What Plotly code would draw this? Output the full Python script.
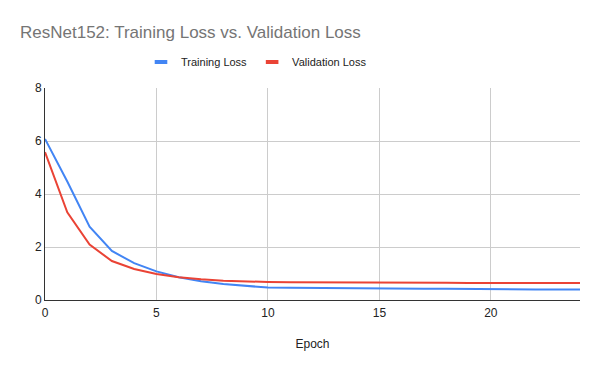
import plotly.graph_objects as go

epochs = list(range(25))
training_loss = [6.08, 4.47, 2.77, 1.85, 1.39, 1.08, 0.86, 0.71, 0.60, 0.53,
                 0.47, 0.46, 0.45, 0.45, 0.44, 0.43, 0.43, 0.42, 0.42, 0.41,
                 0.40, 0.40, 0.40, 0.40, 0.40]
validation_loss = [5.58, 3.31, 2.09, 1.47, 1.17, 0.98, 0.86, 0.78, 0.73, 0.70,
                   0.68, 0.67, 0.67, 0.66, 0.66, 0.65, 0.65, 0.65, 0.65, 0.64,
                   0.64, 0.64, 0.64, 0.64, 0.64]
x_ticks = [0, 5, 10, 15, 20]
y_ticks = [0, 2, 4, 6, 8]
series_names = ["Training Loss", "Validation Loss"]
series_colors = ["#4285F4", "#EA4335"]

FONT = "Liberation Sans, Arial, sans-serif"
# page body has an 8px margin, so the figure is laid out in its own coords
W, H = 592, 363
L, R, T, B = 37, 20, 80, 71
PW, PH = W - L - R, H - T - B

fig = go.Figure()
for name, vals, col in zip(series_names, [training_loss, validation_loss], series_colors):
    fig.add_trace(go.Scatter(x=epochs, y=vals, mode="lines", name=name, showlegend=False,
                             line=dict(color=col, width=2)))
# legend entries with short thick swatches
for name, col in zip(series_names, series_colors):
    fig.add_trace(go.Scatter(x=[None], y=[None], mode="markers", name=name,
                             marker=dict(symbol="line-ew-open", size=9, color=col,
                                         line=dict(color=col, width=4))))

fig.update_layout(
    width=W, height=H,
    paper_bgcolor="white", plot_bgcolor="white",
    font=dict(family=FONT, size=12, color="#222222"),
    title=dict(text="ResNet152: Training Loss vs. Validation Loss",
               x=12/W, xanchor="left", y=1-24/H, yanchor="middle",
               font=dict(family=FONT, size=17, color="#757575")),
    margin=dict(l=L, r=R, t=T, b=B, pad=0, autoexpand=False),
    legend=dict(orientation="h", x=(133-L)/PW, xanchor="left", y=1 + (T-54)/PH, yanchor="middle",
                font=dict(family=FONT, size=11, color="#222222"),
                itemwidth=30, tracegroupgap=0),
    showlegend=True,
)
fig.update_xaxes(range=[0, 24], tickvals=x_ticks, showgrid=True, gridcolor="#CCCCCC",
                 showline=True, linecolor="#333333", linewidth=1, zeroline=False,
                 ticks="", automargin=False, ticklabelstandoff=2,
                 title=dict(text="Epoch", font=dict(family=FONT, size=12, color="#222222"), standoff=20))
fig.update_yaxes(range=[0, 8], tickvals=y_ticks, showgrid=True, gridcolor="#CCCCCC",
                 showline=True, linecolor="#333333", linewidth=1, zeroline=False,
                 ticks="", automargin=False)

fig.write_html("out.html")
